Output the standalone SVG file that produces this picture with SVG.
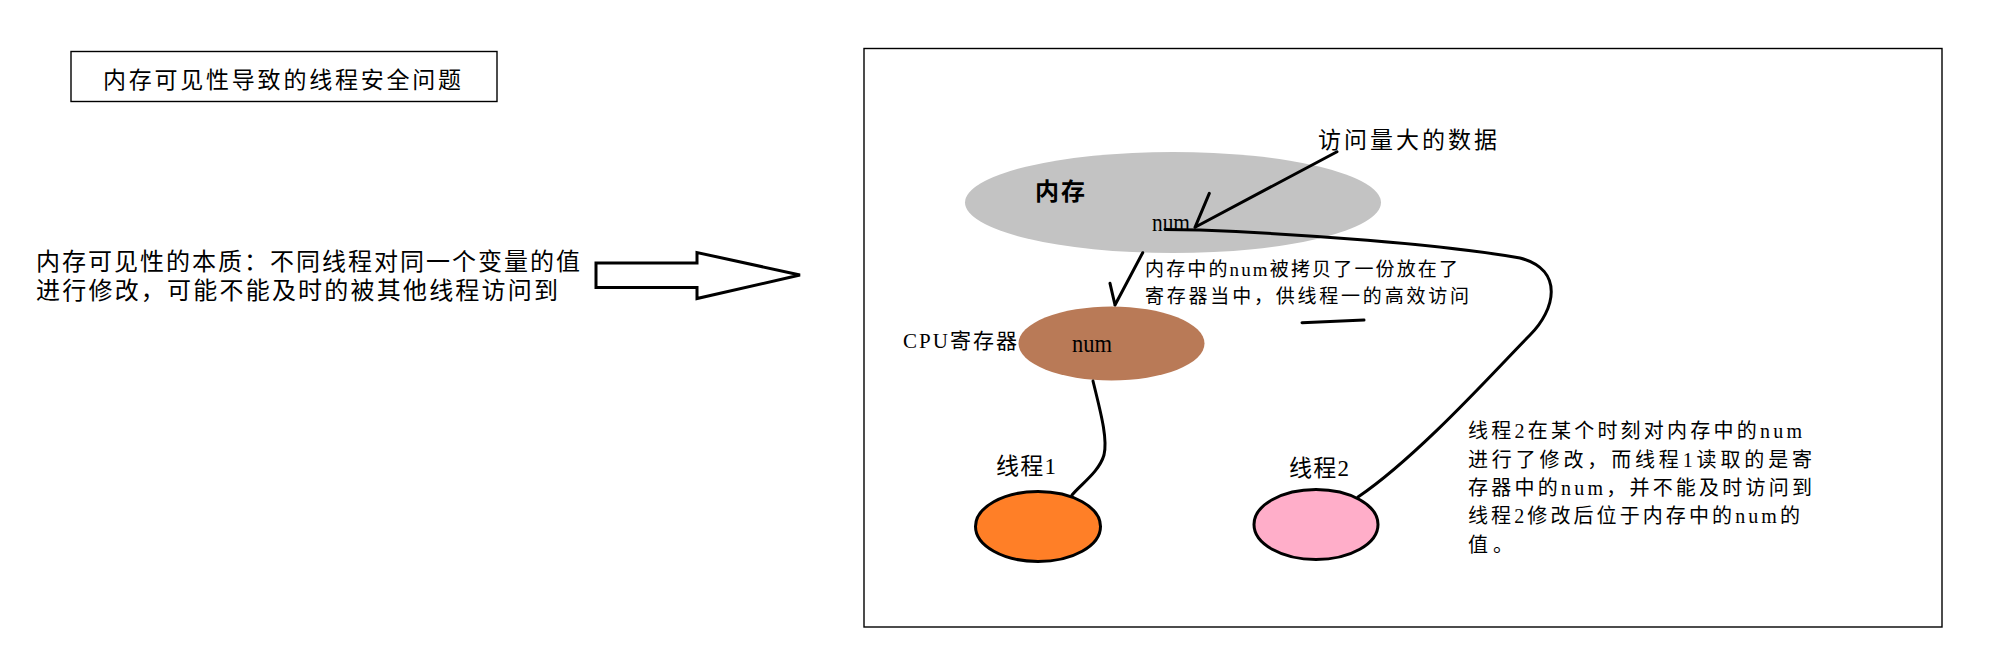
<svg xmlns="http://www.w3.org/2000/svg" width="2004" height="671" viewBox="0 0 2004 671">
<style>
.t{font-family:"Liberation Serif","Noto Sans CJK SC",serif;fill:#000}
.box{fill:none;stroke:#000;stroke-width:1.4}
.ln{fill:none;stroke:#000;stroke-width:3;stroke-linecap:round;stroke-linejoin:round}
.ol{stroke:#000;stroke-width:3}
</style>
<rect width="2004" height="671" fill="#fff"/>
<g id="title">
<rect class="box" x="71" y="51.5" width="426" height="50"/>
<text class="t" x="103" y="88" font-size="23" textLength="358" lengthAdjust="spacing">内存可见性导致的线程安全问题</text>
</g>
<g id="essence">
<text class="t" x="36" y="270" font-size="24" textLength="544" lengthAdjust="spacing">内存可见性的本质：不同线程对同一个变量的值</text>
<text class="t" x="36" y="299" font-size="24" textLength="522" lengthAdjust="spacing">进行修改，可能不能及时的被其他线程访问到</text>
</g>
<g id="big-arrow">
<polygon points="596,263 697,263 697,252.5 800,275 697,298.5 697,287.5 596,287.5" fill="#fff" stroke="#000" stroke-width="3" stroke-linejoin="miter"/>
</g>
<g id="frame">
<rect class="box" x="864" y="48.5" width="1078" height="578.5"/>
</g>
<g id="memory">
<ellipse cx="1173" cy="202.5" rx="208" ry="50.5" fill="#C3C3C3"/>
<text class="t" x="1035" y="200" font-size="24" font-weight="bold" textLength="50">内存</text>
<text class="t" x="1152" y="230.5" font-size="26" textLength="38" lengthAdjust="spacingAndGlyphs">num</text>
</g>
<g id="data-label">
<text class="t" x="1318" y="148" font-size="23" textLength="179" lengthAdjust="spacing">访问量大的数据</text>
</g>
<g id="cpu">
<ellipse cx="1111.5" cy="343.5" rx="93" ry="37" fill="#B97A57"/>
<text class="t" x="1072" y="352" font-size="26" textLength="40" lengthAdjust="spacingAndGlyphs">num</text>
<text class="t" x="903" y="348" font-size="21" textLength="114" lengthAdjust="spacing">CPU寄存器</text>
</g>
<g id="copy-note">
<text class="t" x="1145" y="276" font-size="19" textLength="313" lengthAdjust="spacing">内存中的num被拷贝了一份放在了</text>
<text class="t" x="1145" y="303" font-size="19" textLength="324" lengthAdjust="spacing">寄存器当中，供线程一的高效访问</text>
</g>
<g id="thread1">
<ellipse class="ol" cx="1038" cy="526.5" rx="62.5" ry="35" fill="#FF7F27"/>
<text class="t" x="996" y="474" font-size="23" textLength="60" lengthAdjust="spacing">线程1</text>
</g>
<g id="thread2">
<ellipse class="ol" cx="1316" cy="524.5" rx="62" ry="35" fill="#FFAEC9"/>
<text class="t" x="1289" y="476" font-size="23" textLength="60" lengthAdjust="spacing">线程2</text>
</g>
<g id="thread2-note">
<text class="t" x="1468" y="438" font-size="20" textLength="334" lengthAdjust="spacing">线程2在某个时刻对内存中的num</text>
<text class="t" x="1468" y="467" font-size="20" textLength="344" lengthAdjust="spacing">进行了修改，而线程1读取的是寄</text>
<text class="t" x="1468" y="495" font-size="20" textLength="344" lengthAdjust="spacing">存器中的num，并不能及时访问到</text>
<text class="t" x="1468" y="523" font-size="20" textLength="332" lengthAdjust="spacing">线程2修改后位于内存中的num的</text>
<text class="t" x="1468" y="552" font-size="20" letter-spacing="5">值。</text>
</g>
<g id="connectors">
<path class="ln" d="M1337 151.7 L1195 227.3 M1209.3 193.3 L1195 227.3"/>
<path class="ln" d="M1142.7 252.7 L1115 305 M1110 283.3 L1115 305"/>
<path class="ln" d="M1165 229.5 L1200 230 C1300 234 1440 244 1520 258 C1565 270 1555 310 1530 335 C1500 365 1420 455 1358 497"/>
<path class="ln" d="M1093 381 C1100 410 1108 438 1104 455 C1099 472 1081 484 1072 495"/>
<path class="ln" d="M1302 322.7 L1364 320"/>
</g>
</svg>
